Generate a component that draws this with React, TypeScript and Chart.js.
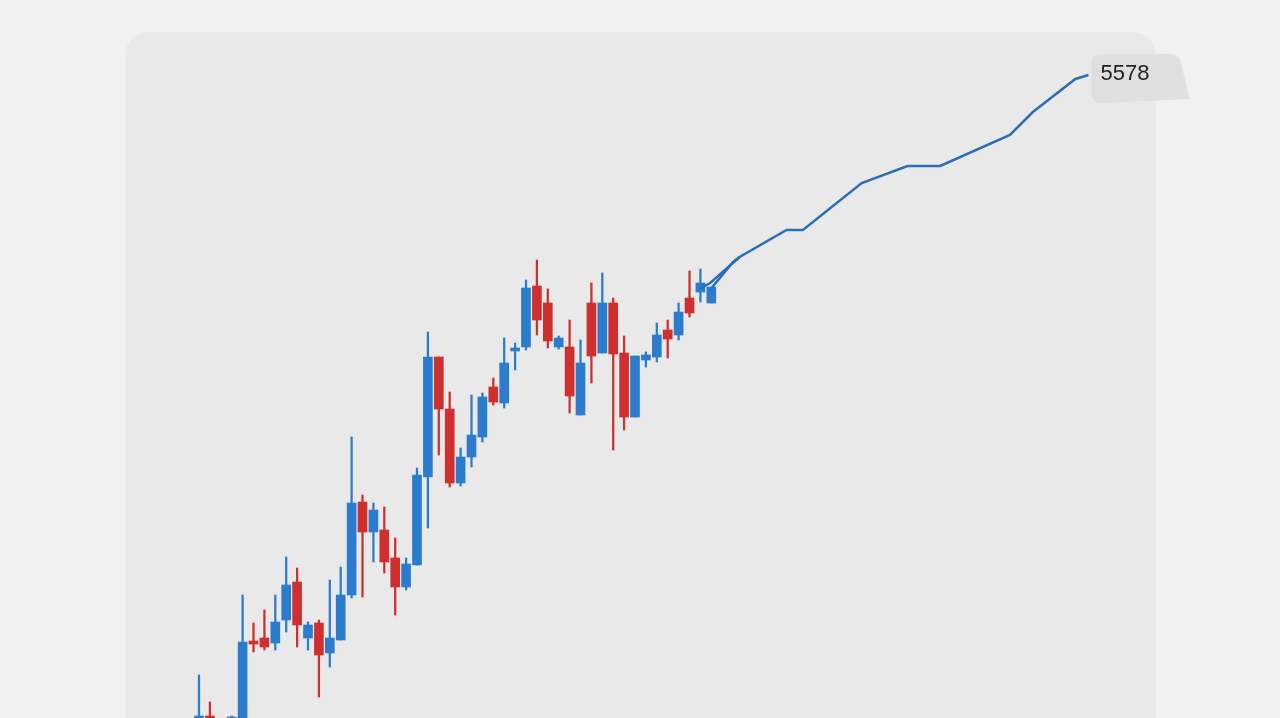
import React, { useEffect, useRef } from "react";
import { Chart, registerables } from "chart.js";

Chart.register(...registerables);

// Session index for each candle
const sessions = [
  0, 1, 2, 3, 4, 5, 6, 7, 8, 9, 10, 11, 12, 13, 14, 15, 16, 17, 18, 19, 20, 21, 22, 23,
  24, 25, 26, 27, 28, 29, 30, 31, 32, 33, 34, 35, 36, 37, 38, 39, 40, 41, 42, 43, 44, 45, 46, 47,
];
const opens = [
  4248, 4296, 4284, 4258, 4210, 4446, 4452, 4442, 4488, 4564, 4452, 4482, 4422, 4448, 4538, 4724,
  4664, 4668, 4612, 4554, 4598, 4774, 5014, 4910, 4762, 4814, 4854, 4954, 4922, 5026, 5034, 5156,
  5122, 5034, 5034, 4898, 5122, 5022, 5122, 5022, 4894, 5008, 5014, 5068, 5058, 5132, 5144, 5122,
];
const closes = [
  4296, 4258, 4248, 4294, 4444, 4440, 4434, 4484, 4558, 4478, 4478, 4418, 4452, 4538, 4722, 4664,
  4708, 4604, 4554, 4600, 4778, 5014, 4910, 4762, 4814, 4858, 4934, 4924, 5002, 5032, 5152, 5088,
  5046, 5052, 4936, 5002, 5016, 5122, 5020, 4894, 5016, 5018, 5058, 5050, 5104, 5102, 5162, 5154,
];
const highs = [
  4378, 4324, 4288, 4296, 4538, 4482, 4508, 4538, 4614, 4592, 4484, 4488, 4568, 4594, 4854, 4738,
  4722, 4714, 4652, 4612, 4792, 5064, 5014, 4944, 4832, 4938, 4942, 4972, 5052, 5042, 5168, 5208,
  5150, 5056, 5088, 5048, 5162, 5182, 5132, 5056, 5016, 5024, 5082, 5088, 5122, 5186, 5190, 5154,
];
const lows = [
  4238, 4238, 4228, 4240, 4200, 4424, 4428, 4428, 4464, 4434, 4428, 4334, 4394, 4448, 4532, 4534,
  4604, 4582, 4498, 4548, 4598, 4672, 4818, 4754, 4756, 4794, 4844, 4918, 4912, 4988, 5028, 5058,
  5032, 5030, 4902, 4898, 4962, 5022, 4828, 4868, 4894, 4994, 5004, 5012, 5048, 5094, 5124, 5122,
];

// Projection line (session position, value)
const trendX = [45.9, 46.9, 49.6, 53.9, 55.4, 60.8, 65.0, 68.0, 74.4, 76.5, 80.4, 81.6];
const trendY = [5150, 5162, 5214, 5268, 5268, 5362, 5396, 5396, 5458, 5504, 5570, 5578];
// Second short strand joining the last candle to the projection
const joinX = [47.1, 49.0, 49.6];
const joinY = [5154, 5204, 5214];

const lastLabel = "5578";

const UP = "#2b7ccc";
const DOWN = "#cf2f2e";
const LINE = "#2a6fb3";

const labelPlugin = {
  id: "lastLabel",
  afterDatasetsDraw(chart: any) {
    const meta = chart.getDatasetMeta(0);
    const pts = meta.data;
    if (!pts || !pts.length) return;
    const p = pts[pts.length - 1];
    const ctx = chart.ctx;
    const x = p.x + 3;
    const y = p.y - 21;
    const w = 98;
    const h = 49;
    const r = 10;
    ctx.save();
    ctx.fillStyle = "rgba(222,222,222,0.9)";
    ctx.beginPath();
    ctx.moveTo(x + r, y);
    ctx.lineTo(x + w - 18, y);
    ctx.quadraticCurveTo(x + w - 12, y, x + w - 9, y + 6);
    ctx.lineTo(x + w, y + h - 4);
    ctx.lineTo(x + r, y + h);
    ctx.quadraticCurveTo(x, y + h, x, y + h - r);
    ctx.lineTo(x, y + r);
    ctx.quadraticCurveTo(x, y, x + r, y);
    ctx.closePath();
    ctx.fill();
    ctx.fillStyle = "#1f1f1f";
    ctx.font = "22px 'Liberation Sans', Arial, sans-serif";
    ctx.textBaseline = "middle";
    ctx.textAlign = "left";
    ctx.fillText(lastLabel, x + 9, p.y - 1);
    ctx.restore();
  },
};

export default function App() {
  const ref = useRef<HTMLCanvasElement | null>(null);

  useEffect(() => {
    if (!ref.current) return;
    const colors = sessions.map((_, i) => (closes[i] >= opens[i] ? UP : DOWN));
    const bodies = sessions.map((s, i) => ({ x: s, y: [opens[i], closes[i]] }));
    const wicks = sessions.map((s, i) => ({ x: s, y: [lows[i], highs[i]] }));
    const trend = trendX.map((x, i) => ({ x, y: trendY[i] }));
    const join = joinX.map((x, i) => ({ x, y: joinY[i] }));

    const chart = new Chart(ref.current, {
      type: "bar",
      data: {
        datasets: [
          {
            type: "line",
            data: trend,
            borderColor: LINE,
            borderWidth: 2.5,
            pointRadius: 0,
            tension: 0,
            order: 0,
          } as any,
          {
            type: "line",
            data: join,
            borderColor: LINE,
            borderWidth: 2.5,
            pointRadius: 0,
            tension: 0,
            order: 0,
          } as any,
          {
            type: "bar",
            data: bodies,
            backgroundColor: colors,
            barThickness: 9,
            minBarLength: 3,
            grouped: false,
            order: 1,
          } as any,
          {
            type: "bar",
            data: wicks,
            backgroundColor: colors,
            barThickness: 1.6,
            grouped: false,
            order: 2,
          } as any,
        ],
      },
      options: {
        responsive: false,
        animation: false,
        layout: { padding: 0 },
        plugins: {
          legend: { display: false },
          tooltip: { enabled: false },
        },
        scales: {
          x: {
            type: "linear",
            display: false,
            min: -18.257,
            max: 99.174,
            offset: false,
          },
          y: {
            display: false,
            min: 4292,
            max: 5728,
          },
        },
      } as any,
      plugins: [labelPlugin],
    });
    return () => chart.destroy();
  }, []);

  return (
    <div
      style={{
        position: "fixed",
        left: 0,
        top: 0,
        width: 1280,
        height: 718,
        background: "#f1f1f1",
        overflow: "hidden",
      }}
    >
      <div
        style={{
          position: "absolute",
          left: 125,
          top: 32,
          width: 1031,
          height: 740,
          borderRadius: 24,
          background: "#e9e9e9",
        }}
      />
      <canvas
        ref={ref}
        width={1280}
        height={718}
        style={{ position: "absolute", left: 0, top: 0, width: 1280, height: 718 }}
      />
    </div>
  );
}
